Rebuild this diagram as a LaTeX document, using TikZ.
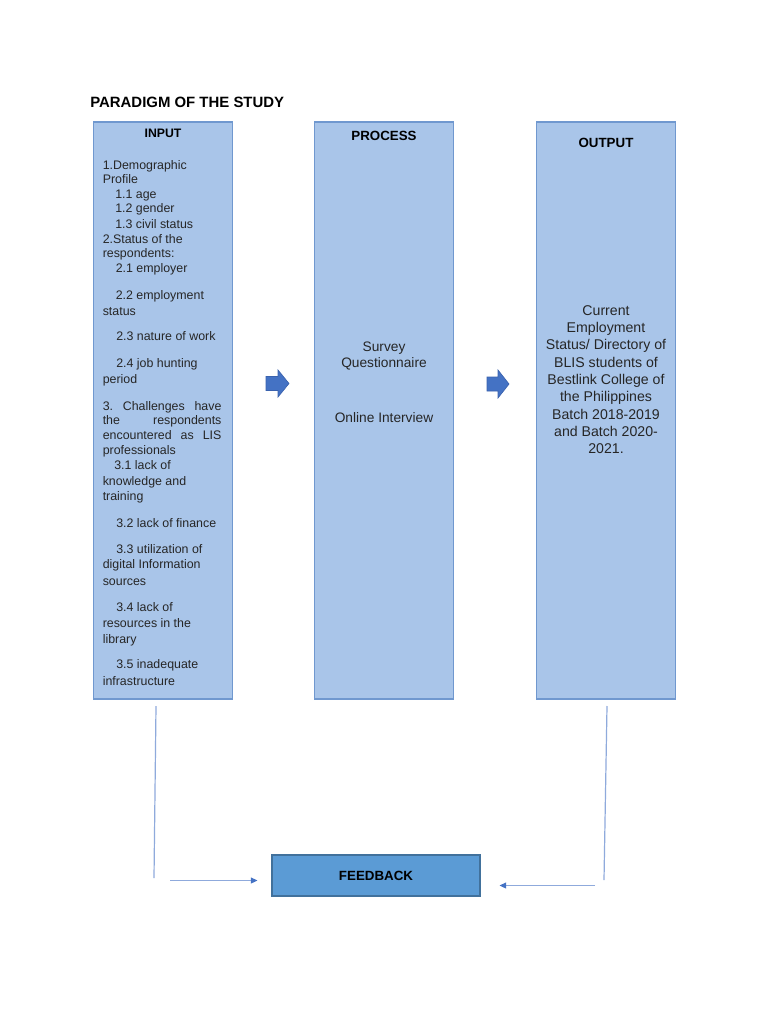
\documentclass[tikz,border=0pt]{standalone}
\usepackage{fontspec}
\setmainfont{Liberation Sans}
\usetikzlibrary{arrows.meta}
\definecolor{boxfill}{HTML}{A9C5E9}
\definecolor{boxline}{HTML}{7098CF}
\definecolor{fbfill}{HTML}{5B9BD5}
\definecolor{fbline}{HTML}{41719C}
\definecolor{barrow}{HTML}{4472C4}
\definecolor{barrowline}{HTML}{3A62AE}
\definecolor{conn}{HTML}{8FAADC}
\definecolor{connhead}{HTML}{4472C4}
\definecolor{txt}{HTML}{262626}
\begin{document}
\begin{tikzpicture}[x=0.75pt,y=-0.75pt,
  panel/.style={draw=boxline,line width=0.8pt,fill=boxfill,minimum width=104pt,minimum height=432.75pt,inner sep=0pt},
  head/.style={font=\bfseries\fontsize{10}{12}\selectfont,text=black,inner sep=0pt},
  inline/.style={font=\fontsize{9.3}{11}\selectfont,text=txt,inner sep=0pt,anchor=base west},
  ptext/.style={font=\fontsize{10.3}{12}\selectfont,text=txt,inner sep=0pt,align=center},
  otext/.style={font=\fontsize{10.6}{13}\selectfont,text=txt,inner sep=0pt,align=center},
  blockarrow/.style={fill=barrow,draw=barrowline,line width=0.5pt},
  connline/.style={draw=conn,line width=0.9pt},
  connarrow/.style={draw=conn,line width=0.9pt,-{Triangle[length=5pt,width=4.5pt,color=connhead]}}
]
\useasboundingbox[fill=white] (0,0) rectangle (768,1024);

% title
\node[font=\bfseries\fontsize{11.2}{13}\selectfont,anchor=west,inner sep=0pt,text=black] (title) at (90,102) {PARADIGM OF THE STUDY};

% panels
\node[panel] (inbox) at (163,410.5) {};
\node[panel] (procbox) at (384,410.5) {};
\node[panel] (outbox) at (606,410.5) {};

% headings
\node[head,font=\bfseries\fontsize{9.2}{11}\selectfont] (inhead) at (163,133.5) {INPUT};
\node[head] (prochead) at (384,135.5) {PROCESS};
\node[head] (outhead) at (606,143) {OUTPUT};

% input lines
\foreach \y/\x/\t [count=\i] in {
  165/102.5/1.Demographic,
  179.5/102.5/Profile,
  194/115/1.1 age,
  208.5/115/1.2 gender,
  224/115/1.3 civil status,
  239/102.5/2.Status of the,
  253.5/102.5/respondents:,
  268.5/115.5/2.1 employer,
  295/115.5/2.2 employment,
  311/102.5/status,
  336.5/116/2.3 nature of work,
  363/116/2.4 job hunting,
  379.5/102.5/period,
  450/102.5/professionals,
  465/114/3.1 lack of,
  481/102.5/knowledge and,
  496/102.5/training,
  523/116/3.2 lack of finance,
  549/116/3.3 utilization of,
  564.5/102.5/digital Information,
  581/102.5/sources,
  607/116/3.4 lack of,
  623/102.5/resources in the,
  639/102.5/library,
  664.5/116/3.5 inadequate,
  681.5/102.5/infrastructure}
  \node[inline] (in\i) at (\x,\y+4) {\t};
\node[inline] (inj1) at (102.5,410) {\hbox to 89pt{3.\hfill Challenges\hfill have}};
\node[inline] (inj2) at (102.5,424.5) {\hbox to 89pt{the\hfill respondents}};
\node[inline] (inj3) at (102.5,439.5) {\hbox to 89pt{encountered\hfill as\hfill LIS}};

% process text
\node[ptext,font=\fontsize{10.3}{12}\selectfont] (proc1) at (384,356) {Survey\\Questionnaire};
\node[ptext] (proc2) at (384,418) {Online Interview};

% output text
\node[otext] (out1) at (606,379.5) {Current\\Employment\\Status/ Directory of\\BLIS students of\\Bestlink College of\\the Philippines\\Batch 2018-2019\\and Batch 2020-\\2021.};

% block arrows
\draw[blockarrow] (266,376.5) -- (278,376.5) -- (278,370) -- (289,383.5) -- (278,397) -- (278,390.5) -- (266,390.5) -- cycle;
\draw[blockarrow] (487,377) -- (498,377) -- (498,370) -- (509,384) -- (498,398) -- (498,391) -- (487,391) -- cycle;

% feedback
\node[draw=fbline,line width=0.8pt,fill=fbfill,minimum width=156pt,minimum height=30.75pt,inner sep=0pt] (fb) at (376,875.5) {};
\node[head] (fbtext) at (376,875.5) {FEEDBACK};

% connectors
\coordinate (lt) at (156,706);
\coordinate (lb) at (154,878);
\coordinate (la) at (170,880.5);
\coordinate (rt) at (607,706);
\coordinate (rb) at (604,880);
\coordinate (ra) at (595,885.5);
\draw[connline] (lt) -- (lb);
\draw[connarrow] (la) -- ([xshift=-10.5pt]fb.west |- la);
\draw[connline] (rt) -- (rb);
\draw[connarrow] (ra) -- ([xshift=14.25pt]fb.east |- ra);
\end{tikzpicture}
\end{document}
